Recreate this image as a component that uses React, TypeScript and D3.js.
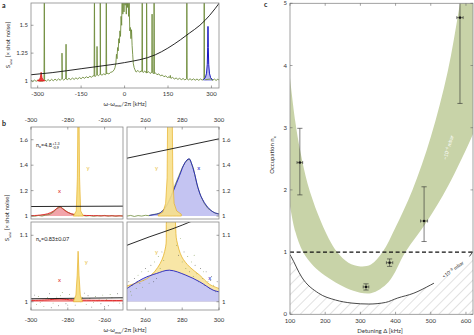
import React from "react";
import * as d3 from "d3";

type P = [number, number];

const FONT = "Lato, 'Open Sans', 'DejaVu Sans', sans-serif";
const GREEN = "#6f8c3c";
const BAND = "#c8d3a8";
const FRAME = "#8a8a8a";
const TXT = "#333";

// ---------------- Panel a ----------------
const aTicksX = [-300, -150, 0, 150, 300];
const aTicksY = [1, 1.25, 1.5];
const aBaseline: P[] = [
  [-323, 1.006], [-317, 0.994], [-311, 1.008], [-305, 0.997], [-299, 1.01], [-293, 0.998],
  [-282, 1.0], [-276, 1.012], [-270, 0.998], [-264, 1.013], [-258, 1.0], [-252, 1.015],
  [-246, 1.002], [-240, 1.017], [-234, 1.004], [-228, 1.019], [-222, 1.006], [-216, 1.02],
  [-210, 1.008], [-204, 1.022], [-198, 1.01], [-192, 1.024], [-186, 1.012], [-180, 1.026],
  [-174, 1.014], [-168, 1.028], [-162, 1.017], [-156, 1.031], [-150, 1.02], [-144, 1.034],
  [-138, 1.024], [-132, 1.038], [-126, 1.028], [-120, 1.042], [-114, 1.034], [-108, 1.048],
  [-102, 1.04], [-96, 1.055], [-90, 1.047], [-84, 1.06], [-78, 1.052], [-72, 1.064],
  [-66, 1.056], [-60, 1.07], [-54, 1.063], [-48, 1.078], [-42, 1.082], [-36, 1.1],
  [-33, 1.12], [-30, 1.16], [-28, 1.24], [-26, 1.2], [-24, 1.3], [-22, 1.27], [-20, 1.38],
  [-18, 1.34], [-16, 1.45], [-14, 1.4], [-12, 1.58], [-10, 1.5], [-8, 1.9], [-6, 1.6],
  [-4, 1.9], [-2, 1.62], [0, 1.9], [2, 1.68], [4, 1.9], [6, 1.6], [8, 1.9], [10, 1.66],
  [12, 1.9], [14, 1.58], [16, 1.7], [18, 1.45], [20, 1.48], [22, 1.38], [24, 1.46],
  [26, 1.32], [28, 1.24], [30, 1.16], [33, 1.12], [36, 1.1], [40, 1.08], [46, 1.095],
  [52, 1.078], [58, 1.092], [64, 1.076], [70, 1.09], [76, 1.072], [82, 1.085], [88, 1.068],
  [94, 1.08], [100, 1.064], [106, 1.074], [112, 1.056], [118, 1.064], [124, 1.046],
  [130, 1.054], [136, 1.038], [142, 1.046], [148, 1.03], [154, 1.038], [160, 1.024],
  [166, 1.032], [172, 1.018], [178, 1.027], [184, 1.014], [190, 1.024], [196, 1.012],
  [202, 1.022], [208, 1.01], [214, 1.02], [220, 1.009], [226, 1.02], [232, 1.008],
  [238, 1.019], [244, 1.007], [250, 1.018], [256, 1.006], [262, 1.018], [268, 1.008],
  [274, 1.02], [280, 1.012], [298, 1.018], [304, 1.006], [310, 1.017], [316, 1.005],
  [322, 1.016], [326, 1.008],
];
const aSpikes: P[] = [
  [-277, 1.9], [-216, 1.25], [-202, 1.33], [-104, 1.9], [-95, 1.31], [-84, 1.9], [-63, 1.9],
  [61, 1.9], [76, 1.9], [95, 1.6], [102, 1.9], [158, 1.05], [215, 1.9], [275, 1.9],
];
const aRedPeak: P[] = [
  [-300, 1.004], [-294, 1.012], [-291, 1.03], [-289, 1.06], [-288, 1.078], [-287, 1.06],
  [-285, 1.03], [-282, 1.012], [-276, 1.004],
];
const aBluePeak: P[] = [
  [272, 1.01], [279, 1.03], [283, 1.07], [285.5, 1.15], [287, 1.3], [288, 1.49], [289, 1.3],
  [290.5, 1.15], [293, 1.07], [297, 1.03], [304, 1.01],
];
const aLimit: P[] = [
  [-326, 1.055], [-250, 1.075], [-150, 1.11], [-50, 1.145], [0, 1.165], [106, 1.235],
  [193, 1.37], [224, 1.43], [260, 1.5], [294, 1.59], [330, 1.71],
];

// ---------------- Panel b ----------------
const bTicksXL = [-300, -280, -260];
const bTicksXR = [260, 280, 300];
const bTicksYTop = [1, 1.2, 1.4, 1.6];
const bTicksYBot = [1, 1.1];
const tlData: P[] = [
  [-300, 1.003], [-298, 0.998], [-296, 1.005], [-294, 1.0], [-292, 1.008], [-290, 1.012],
  [-288, 1.03], [-286, 1.058], [-284, 1.072], [-282, 1.052], [-280, 1.03], [-278, 1.016],
  [-276, 1.008], [-274, 1.004], [-272, 1.006], [-270, 1.0], [-268, 1.004], [-266, 0.998],
  [-264, 1.003], [-262, 1.0], [-260, 1.005], [-258, 0.999], [-256, 1.004], [-254, 0.998],
  [-252, 1.003], [-250, 1.0],
];
const tlRedFit: P[] = [
  [-300, 1.003], [-295, 1.008], [-291, 1.018], [-288, 1.037], [-286, 1.06], [-284.5, 1.075],
  [-283, 1.06], [-281, 1.037], [-278, 1.018], [-274, 1.008], [-268, 1.004], [-250, 1.001],
];
const tlYellow: P[] = [
  [-277, 1.0], [-275.4, 1.04], [-274.8, 1.3], [-274.5, 1.8], [-273.9, 1.8], [-273.6, 1.3],
  [-273.0, 1.04], [-271.5, 1.0],
];
const tlLimit: P[] = [[-300, 1.075], [-250, 1.078]];
const trData: P[] = [
  [250, 1.0], [252, 1.005], [254, 0.997], [256, 1.004], [258, 1.0], [260, 1.006], [262, 1.003],
  [264, 1.012], [266, 1.016], [268, 1.025], [270, 1.05], [272, 1.1], [274, 1.16], [276, 1.24],
  [278, 1.31], [280, 1.38], [282, 1.43], [284, 1.45], [286, 1.38], [288, 1.25], [290, 1.16],
  [292, 1.1], [294, 1.06], [296, 1.04], [298, 1.022], [300, 1.018],
];
const trBlueFit: P[] = [
  [262, 1.005], [266, 1.015], [268, 1.024], [271.5, 1.08], [275, 1.19], [278.6, 1.32],
  [281.5, 1.42], [283.7, 1.45], [286, 1.37], [289.5, 1.18], [293, 1.086], [296.6, 1.034],
  [300, 1.016],
];
const trYellow: P[] = [
  [267, 1.01], [269.5, 1.03], [271, 1.1], [271.8, 1.3], [272.1, 1.8], [274.6, 1.8],
  [274.9, 1.3], [275.6, 1.1], [277, 1.04], [279.5, 1.015],
];
const trLimit: P[] = [[250, 1.455], [300, 1.607]];
const blDots: P[] = [
  [-299, 1.004], [-297, 0.996], [-296, 1.008], [-294, 1.001], [-293, 0.993], [-291, 1.006],
  [-290, 1.012], [-288, 0.998], [-287, 1.003], [-285, 0.994], [-284, 1.009], [-282, 1.002],
  [-281, 0.997], [-279, 1.011], [-278, 1.004], [-276, 0.995], [-275, 1.007], [-273, 1.0],
  [-271, 1.013], [-270, 0.996], [-268, 1.005], [-267, 0.992], [-265, 1.008], [-264, 1.001],
  [-262, 0.997], [-261, 1.01], [-259, 1.003], [-258, 0.994], [-256, 1.006], [-255, 1.0],
  [-253, 1.012], [-252, 0.998], [-251, 1.004], [-298, 1.01], [-295, 0.999], [-292, 1.002],
  [-289, 0.991], [-286, 1.007], [-283, 1.014], [-280, 0.995], [-277, 1.003], [-272, 1.006],
  [-269, 1.009], [-266, 0.999], [-263, 1.004], [-260, 0.993], [-257, 1.011], [-254, 1.002],
  [-250, 0.997],
];
const blRedFit: P[] = [[-300, 1.002], [-290, 1.003], [-284.5, 1.0045], [-279, 1.003], [-250, 1.002]];
const blYellow: P[] = [
  [-277, 1.0], [-275.6, 1.01], [-274.9, 1.04], [-274.4, 1.076], [-273.9, 1.04], [-273.2, 1.01],
  [-272, 1.0],
];
const blLimit: P[] = [[-300, 1.0045], [-250, 1.006]];
const brDots: P[] = [
  [251, 1.03], [252, 1.015], [253, 1.025], [254, 1.035], [255, 1.02], [256, 1.04], [257, 1.028],
  [258, 1.045], [259, 1.032], [260, 1.05], [261, 1.038], [262, 1.028], [263, 1.055],
  [264, 1.042], [265, 1.06], [266, 1.035], [267, 1.068], [268, 1.05], [269, 1.075],
  [270, 1.062], [277, 1.085], [278, 1.07], [279, 1.095], [280, 1.06], [281, 1.075],
  [282, 1.05], [283, 1.068], [284, 1.045], [285, 1.06], [286, 1.038], [287, 1.055],
  [288, 1.042], [289, 1.03], [290, 1.05], [291, 1.035], [292, 1.025], [293, 1.045],
  [294, 1.03], [295, 1.02], [296, 1.038], [297, 1.025], [298, 1.015], [299, 1.03], [300, 1.02],
  [252.5, 1.01], [255.5, 1.03], [258.5, 1.022], [261.5, 1.046], [264.5, 1.03], [286.5, 1.07],
  [291.5, 1.045], [295.5, 1.032],
];
const brBlueFit: P[] = [
  [250, 1.02], [258.8, 1.035], [266, 1.0425], [273, 1.0475], [282, 1.04], [289.5, 1.03],
  [296.8, 1.0175], [300, 1.015],
];
const brYellow: P[] = [
  [250, 1.024], [256, 1.029], [262, 1.037], [268, 1.0575], [271, 1.0825], [272.3, 1.13],
  [275.3, 1.13], [277, 1.0925], [279.8, 1.0675], [284, 1.0525], [289.5, 1.04], [295, 1.026],
  [300, 1.02],
];
const brLimit: P[] = [[250, 1.085], [262, 1.0975], [275, 1.11], [285, 1.121], [290, 1.127]];

// ---------------- Panel c ----------------
const cTicksX = [100, 200, 300, 400, 500, 600];
const cTicksY = [0, 1, 2, 3, 4, 5];
const cInner: P[] = [
  [100, 3.8], [115, 3.1], [130, 2.6], [150, 2.1], [180, 1.6], [210, 1.22], [234, 1.0],
  [266, 0.83], [300, 0.77], [330, 0.8], [363, 1.0], [400, 1.4], [448, 2.0], [500, 2.85],
  [548, 3.9], [580, 4.9], [605, 5.8], [640, 7.0],
];
const cOuter: P[] = [
  [100, 1.74], [115, 1.33], [137, 1.0], [166, 0.78], [200, 0.62], [240, 0.48], [280, 0.38],
  [330, 0.34], [380, 0.52], [428, 1.0], [490, 1.5], [548, 2.05], [620, 2.9], [640, 3.2],
];
const cLimitA: P[] = [
  [100, 0.96], [103, 0.93], [133, 0.6], [181, 0.34], [229, 0.23], [276, 0.18], [324, 0.165],
  [371, 0.19], [405, 0.26], [452, 0.34], [499, 0.47], [509, 0.5],
];
const cLimitB: P[] = [[610, 0.93], [620, 1.01]];
const cDet = [128, 316, 383, 481, 583];
const cDetErr = [8, 8, 9, 10, 9];
const cOcc = [2.44, 0.44, 0.83, 1.5, 4.77];
const cOccLo = [1.92, 0.39, 0.77, 1.17, 3.39];
const cOccHi = [2.99, 0.49, 0.89, 2.05, 6.1];

type S = d3.ScaleLinear<number, number>;

function Ticks({ x, y, xt, yt, b, t, l, r, len = 2.5 }: any) {
  const [x0, x1] = x.range();
  const [y0, y1] = y.range();
  const els: any[] = [];
  xt.forEach((v: number, i: number) => {
    const px = x(v);
    if (b) els.push(<line key={"b" + i} x1={px} x2={px} y1={y0} y2={y0 - len} />);
    if (t) els.push(<line key={"t" + i} x1={px} x2={px} y1={y1} y2={y1 + len} />);
  });
  yt.forEach((v: number, i: number) => {
    const py = y(v);
    if (l) els.push(<line key={"l" + i} x1={x0} x2={x0 + len} y1={py} y2={py} />);
    if (r) els.push(<line key={"r" + i} x1={x1} x2={x1 - len} y1={py} y2={py} />);
  });
  return <g stroke="#666" strokeWidth={0.6}>{els}</g>;
}

function Frame({ x, y }: { x: S; y: S }) {
  const [x0, x1] = x.range();
  const [y0, y1] = y.range();
  return <rect x={x0} y={y1} width={x1 - x0} height={y0 - y1} fill="none" stroke={FRAME} strokeWidth={0.8} />;
}

function Clip({ id, x, y }: { id: string; x: S; y: S }) {
  const [x0, x1] = x.range();
  const [y0, y1] = y.range();
  return (
    <clipPath id={id}>
      <rect x={x0} y={y1} width={x1 - x0} height={y0 - y1} />
    </clipPath>
  );
}

function lineOf(x: S, y: S, curve: any = d3.curveLinear) {
  return d3.line<P>().x((d) => x(d[0])).y((d) => y(d[1])).curve(curve);
}
function areaOf(x: S, y: S, base: number, curve: any = d3.curveLinear) {
  return d3.area<P>().x((d) => x(d[0])).y0(y(base)).y1((d) => y(d[1])).curve(curve);
}

function interp(pts: P[], f: number) {
  for (let i = 0; i < pts.length - 1; i++) {
    if (f >= pts[i][0] && f <= pts[i + 1][0]) {
      const t = (f - pts[i][0]) / (pts[i + 1][0] - pts[i][0]);
      return pts[i][1] + t * (pts[i + 1][1] - pts[i][1]);
    }
  }
  return pts[pts.length - 1][1];
}

export default function App() {
  const fs = 6;
  // panel a
  const ax = d3.scaleLinear().domain([-323, 326]).range([31, 219]);
  const ay = d3.scaleLinear().domain([0.937, 1.7]).range([88, 3]);
  const spec: P[] = [...aBaseline];
  aSpikes.forEach(([f, h]) => {
    const b = interp(aBaseline, f);
    spec.push([f - 1.1, b], [f, h], [f + 1.1, b]);
  });
  spec.sort((p, q) => p[0] - q[0]);
  const aLine = lineOf(ax, ay);
  const aSmooth = lineOf(ax, ay, d3.curveMonotoneX);

  // panel b
  const bxL = d3.scaleLinear().domain([-300, -250]).range([31, 123]);
  const bxR = d3.scaleLinear().domain([250, 300]).range([127, 219]);
  const byT = d3.scaleLinear().domain([0.977, 1.7]).range([219, 127]);
  const byB = d3.scaleLinear().domain([0.9876, 1.12]).range([310, 222]);
  const cr = d3.curveCatmullRom;

  // panel c
  const cx = d3.scaleLinear().domain([100, 620]).range([290, 473]);
  const cy = d3.scaleLinear().domain([0, 5]).range([314.3, 3.3]);
  const cl = lineOf(cx, cy, d3.curveCatmullRom);
  const outerRev = cl([...cOuter].reverse()) || "";
  const bandPath = (cl(cInner) || "") + "L" + outerRev.slice(1) + "Z";
  const limitAll = [...cLimitA, ...cLimitB];
  const hatchArea = areaOf(cx, cy, 0, d3.curveMonotoneX)(limitAll) || "";

  const tickLabel = (key: string, x: number, y: number, s: string, anchor = "middle") => (
    <text key={key} x={x} y={y} textAnchor={anchor}>{s}</text>
  );

  return (
    <svg width={474} height={335} style={{ display: "block", position: "absolute", left: 0, top: 0 }} fontFamily={FONT}>
      <defs>
        <Clip id="ca" x={ax} y={ay} />
        <Clip id="ctl" x={bxL} y={byT} />
        <Clip id="ctr" x={bxR} y={byT} />
        <Clip id="cbl" x={bxL} y={byB} />
        <Clip id="cbr" x={bxR} y={byB} />
        <Clip id="cc" x={cx} y={cy} />
        <pattern id="hatch" patternUnits="userSpaceOnUse" width={7} height={7} patternTransform="rotate(45)">
          <line x1={0} y1={0} x2={0} y2={7} stroke="#9a9a9a" strokeWidth={0.6} />
        </pattern>
      </defs>
      <rect width={474} height={335} fill="#fff" />

      {/* ---------- Panel a ---------- */}
      <text x={2} y={8} fontSize={7} fontWeight="bold" fill="#222">a</text>
      <g clipPath="url(#ca)">
        <path d={areaOf(ax, ay, 1.0)(aBluePeak) || ""} fill="#bdbdf0" />
        <path d={aLine(spec) || ""} fill="none" stroke={GREEN} strokeWidth={0.9} />
        <path d={areaOf(ax, ay, 1.0)(aRedPeak) || ""} fill="#ee3a3a" stroke="#dd1111" strokeWidth={0.8} />
        <path d={aLine(aBluePeak) || ""} fill="none" stroke="#1818c0" strokeWidth={1} />
        <path d={aSmooth(aLimit) || ""} fill="none" stroke="#111" strokeWidth={0.9} />
      </g>
      <Frame x={ax} y={ay} />
      <Ticks x={ax} y={ay} xt={aTicksX} yt={aTicksY} b l />
      <g fontSize={fs} fill={TXT}>
        {aTicksX.map((v, i) => tickLabel("ax" + i, ax(v), 95.5, String(v)))}
        {aTicksY.map((v, i) => tickLabel("ay" + i, 28, ay(v) + 2, String(v), "end"))}
        <text x={125} y={105.5} textAnchor="middle">
          ω-ω<tspan fontSize={4} dy={1.5}>mw</tspan><tspan dy={-1.5}>/2π [kHz]</tspan>
        </text>
        <text transform="translate(10,45) rotate(-90)" textAnchor="middle">
          S<tspan fontSize={4} dy={1.5}>ωω</tspan><tspan dy={-1.5}> [× shot noise]</tspan>
        </text>
      </g>

      {/* ---------- Panel b ---------- */}
      <text x={2} y={126} fontSize={7} fontWeight="bold" fill="#222">b</text>
      {/* top-left */}
      <g clipPath="url(#ctl)">
        <path d={areaOf(bxL, byT, 1.0, cr)(tlRedFit) || ""} fill="#f2a4aa" />
        <path d={lineOf(bxL, byT)(tlData) || ""} fill="none" stroke={GREEN} strokeWidth={0.8} />
        <path d={lineOf(bxL, byT, cr)(tlRedFit) || ""} fill="none" stroke="#e02424" strokeWidth={0.9} />
        <path d={areaOf(bxL, byT, 1.0)(tlYellow) || ""} fill="#f7df86" stroke="#e6b22a" strokeWidth={0.7} />
        <path d={lineOf(bxL, byT)(tlLimit) || ""} fill="none" stroke="#111" strokeWidth={0.9} />
      </g>
      <Frame x={bxL} y={byT} />
      <Ticks x={bxL} y={byT} xt={bTicksXL} yt={bTicksYTop} t l />
      {/* top-right */}
      <g clipPath="url(#ctr)">
        <path d={areaOf(bxR, byT, 1.0, cr)(trBlueFit) || ""} fill="#c4c4f2" />
        <path d={lineOf(bxR, byT)(trData) || ""} fill="none" stroke={GREEN} strokeWidth={0.8} />
        <path d={lineOf(bxR, byT, cr)(trBlueFit) || ""} fill="none" stroke="#2020c0" strokeWidth={0.9} />
        <path d={areaOf(bxR, byT, 1.0)(trYellow) || ""} fill="#f7e08c" fillOpacity={0.9} stroke="#e6b22a" strokeWidth={0.7} />
        <path d={lineOf(bxR, byT)(trLimit) || ""} fill="none" stroke="#111" strokeWidth={0.9} />
      </g>
      <Frame x={bxR} y={byT} />
      <Ticks x={bxR} y={byT} xt={bTicksXR} yt={bTicksYTop} t r />
      {/* bottom-left */}
      <g clipPath="url(#cbl)">
        {blDots.map((d, i) => (
          <circle key={"bl" + i} cx={bxL(d[0])} cy={byB(d[1])} r={0.45} fill={i % 3 === 0 ? "#444" : GREEN} />
        ))}
        <path d={areaOf(bxL, byB, 1.0, cr)(blRedFit) || ""} fill="#f08a8a" />
        <path d={lineOf(bxL, byB, cr)(blRedFit) || ""} fill="none" stroke="#e02424" strokeWidth={1} />
        <path d={lineOf(bxL, byB)(blLimit) || ""} fill="none" stroke="#111" strokeWidth={0.9} />
        <path d={areaOf(bxL, byB, 1.0)(blYellow) || ""} fill="#f7df86" stroke="#e6b22a" strokeWidth={0.7} />
      </g>
      <Frame x={bxL} y={byB} />
      <Ticks x={bxL} y={byB} xt={bTicksXL} yt={bTicksYBot} b l />
      {/* bottom-right */}
      <g clipPath="url(#cbr)">
        <path d={areaOf(bxR, byB, 1.0, cr)(brYellow) || ""} fill="#f8e6a6" />
        <path d={areaOf(bxR, byB, 1.0, cr)(brBlueFit) || ""} fill="#c8c8f3" />
        {brDots.map((d, i) => (
          <circle key={"br" + i} cx={bxR(d[0])} cy={byB(d[1])} r={0.45} fill={i % 3 === 0 ? "#444" : GREEN} />
        ))}
        <path d={lineOf(bxR, byB, cr)(brYellow) || ""} fill="none" stroke="#e6b22a" strokeWidth={0.8} />
        <path d={lineOf(bxR, byB, cr)(brBlueFit) || ""} fill="none" stroke="#2020c0" strokeWidth={0.9} />
        <path d={lineOf(bxR, byB, d3.curveMonotoneX)(brLimit) || ""} fill="none" stroke="#111" strokeWidth={0.9} />
      </g>
      <Frame x={bxR} y={byB} />
      <Ticks x={bxR} y={byB} xt={bTicksXR} yt={bTicksYBot} b r />
      <g fontSize={fs} fill={TXT}>
        {bTicksXL.map((v, i) => tickLabel("btl" + i, bxL(v), 122, String(v)))}
        {bTicksXR.map((v, i) => tickLabel("btr" + i, bxR(v), 122, String(v)))}
        {bTicksXL.map((v, i) => tickLabel("bbl" + i, bxL(v), 322, String(v)))}
        {bTicksXR.map((v, i) => tickLabel("bbr" + i, bxR(v), 322, String(v)))}
        {bTicksYTop.map((v, i) => tickLabel("byl" + i, 28, byT(v) + 2, String(v), "end"))}
        {bTicksYTop.map((v, i) => tickLabel("byr" + i, 222, byT(v) + 2, String(v), "start"))}
        {bTicksYBot.map((v, i) => tickLabel("bybl" + i, 28, byB(v) + 2, String(v), "end"))}
        {bTicksYBot.map((v, i) => tickLabel("bybr" + i, 222, byB(v) + 2, String(v), "start"))}
        <text x={125} y={332} textAnchor="middle">
          ω-ω<tspan fontSize={4} dy={1.5}>mw</tspan><tspan dy={-1.5}>/2π [kHz]</tspan>
        </text>
        <text transform="translate(9,218) rotate(-90)" textAnchor="middle">
          S<tspan fontSize={4} dy={1.5}>ωω</tspan><tspan dy={-1.5}> [× shot noise]</tspan>
        </text>
      </g>
      <g fontSize={5.5} fill="#222">
        <text x={36} y={147}>
          n<tspan fontSize={3.8} dy={1.2}>x</tspan><tspan dy={-1.2}>=4.8</tspan>
        </text>
        <text x={52.5} y={144.5} fontSize={3.6}>+1.3</text>
        <text x={52.5} y={149} fontSize={3.6}>-0.9</text>
        <text x={36} y={241}>
          n<tspan fontSize={3.8} dy={1.2}>x</tspan><tspan dy={-1.2}>=0.83±0.07</tspan>
        </text>
      </g>
      <g fontSize={6}>
        <text x={bxL(-284.5)} y={byT(1.2) + 2} textAnchor="middle" fill="#e03030">x</text>
        <text x={bxL(-269)} y={byT(1.38) + 2} textAnchor="middle" fill="#e8c24a">y</text>
        <text x={bxR(266)} y={byT(1.38) + 2} textAnchor="middle" fill="#e8c24a">y</text>
        <text x={bxR(289)} y={byT(1.38) + 2} textAnchor="middle" fill="#2a2ac8">x</text>
        <text x={bxL(-284.5)} y={byB(1.033) + 2} textAnchor="middle" fill="#e03030">x</text>
        <text x={bxL(-270)} y={byB(1.06) + 2} textAnchor="middle" fill="#e8c24a">y</text>
        <text x={bxR(266)} y={byB(1.075) + 2} textAnchor="middle" fill="#e8c24a">y</text>
        <text x={bxR(295)} y={byB(1.035) + 2} textAnchor="middle" fill="#2a2ac8">x</text>
      </g>

      {/* ---------- Panel c ---------- */}
      <text x={264} y={7} fontSize={7} fontWeight="bold" fill="#222">c</text>
      <g clipPath="url(#cc)">
        <path d={bandPath} fill={BAND} />
        <path d={hatchArea} fill="url(#hatch)" />
        <path d={lineOf(cx, cy, d3.curveMonotoneX)(cLimitA) || ""} fill="none" stroke="#333" strokeWidth={0.9} />
        <path d={lineOf(cx, cy)(cLimitB) || ""} fill="none" stroke="#333" strokeWidth={0.9} />
        <line x1={cx(100)} x2={cx(620)} y1={cy(1)} y2={cy(1)} stroke="#111" strokeWidth={1.1} strokeDasharray="4,2.6" />
        {cDet.map((d, i) => {
          const px = cx(d), py = cy(cOcc[i]);
          const ylo = cy(cOccLo[i]), yhi = cy(cOccHi[i]);
          const xl = cx(d - cDetErr[i]), xr = cx(d + cDetErr[i]);
          return (
            <g key={"pt" + i} stroke="#2a2a2a" strokeWidth={0.6}>
              <line x1={px} x2={px} y1={ylo} y2={yhi} />
              <line x1={px - 2.6} x2={px + 2.6} y1={ylo} y2={ylo} />
              <line x1={px - 2.6} x2={px + 2.6} y1={yhi} y2={yhi} />
              <line x1={xl} x2={xr} y1={py} y2={py} />
              <line x1={xl} x2={xl} y1={py - 1.5} y2={py + 1.5} />
              <line x1={xr} x2={xr} y1={py - 1.5} y2={py + 1.5} />
              <rect x={px - 1.1} y={py - 1.1} width={2.2} height={2.2} fill="#111" stroke="none" />
            </g>
          );
        })}
      </g>
      <Frame x={cx} y={cy} />
      <Ticks x={cx} y={cy} xt={cTicksX} yt={cTicksY} b t l r />
      <g fontSize={fs} fill={TXT}>
        {cTicksX.map((v, i) => tickLabel("cx" + i, cx(v), 322.5, String(v)))}
        {cTicksY.map((v, i) => tickLabel("cy" + i, 287, cy(v) + 2, String(v), "end"))}
        <text x={380} y={332.5} textAnchor="middle">Detuning Δ [kHz]</text>
        <text transform="translate(274,155) rotate(-90)" textAnchor="middle">
          Occupation n<tspan fontSize={4} dy={1.5}>x</tspan>
        </text>
      </g>
      <text transform="translate(450,148) rotate(-73)" textAnchor="middle" fontSize={5} fill="#fff">
        ~10<tspan fontSize={3.5} dy={-1.8}>−6</tspan><tspan dy={1.8}> mbar</tspan>
      </text>
      <text transform="translate(454,271) rotate(-36)" textAnchor="middle" fontSize={5} fill="#333">
        &lt;10<tspan fontSize={3.5} dy={-1.8}>−8</tspan><tspan dy={1.8}> mbar</tspan>
      </text>
    </svg>
  );
}
